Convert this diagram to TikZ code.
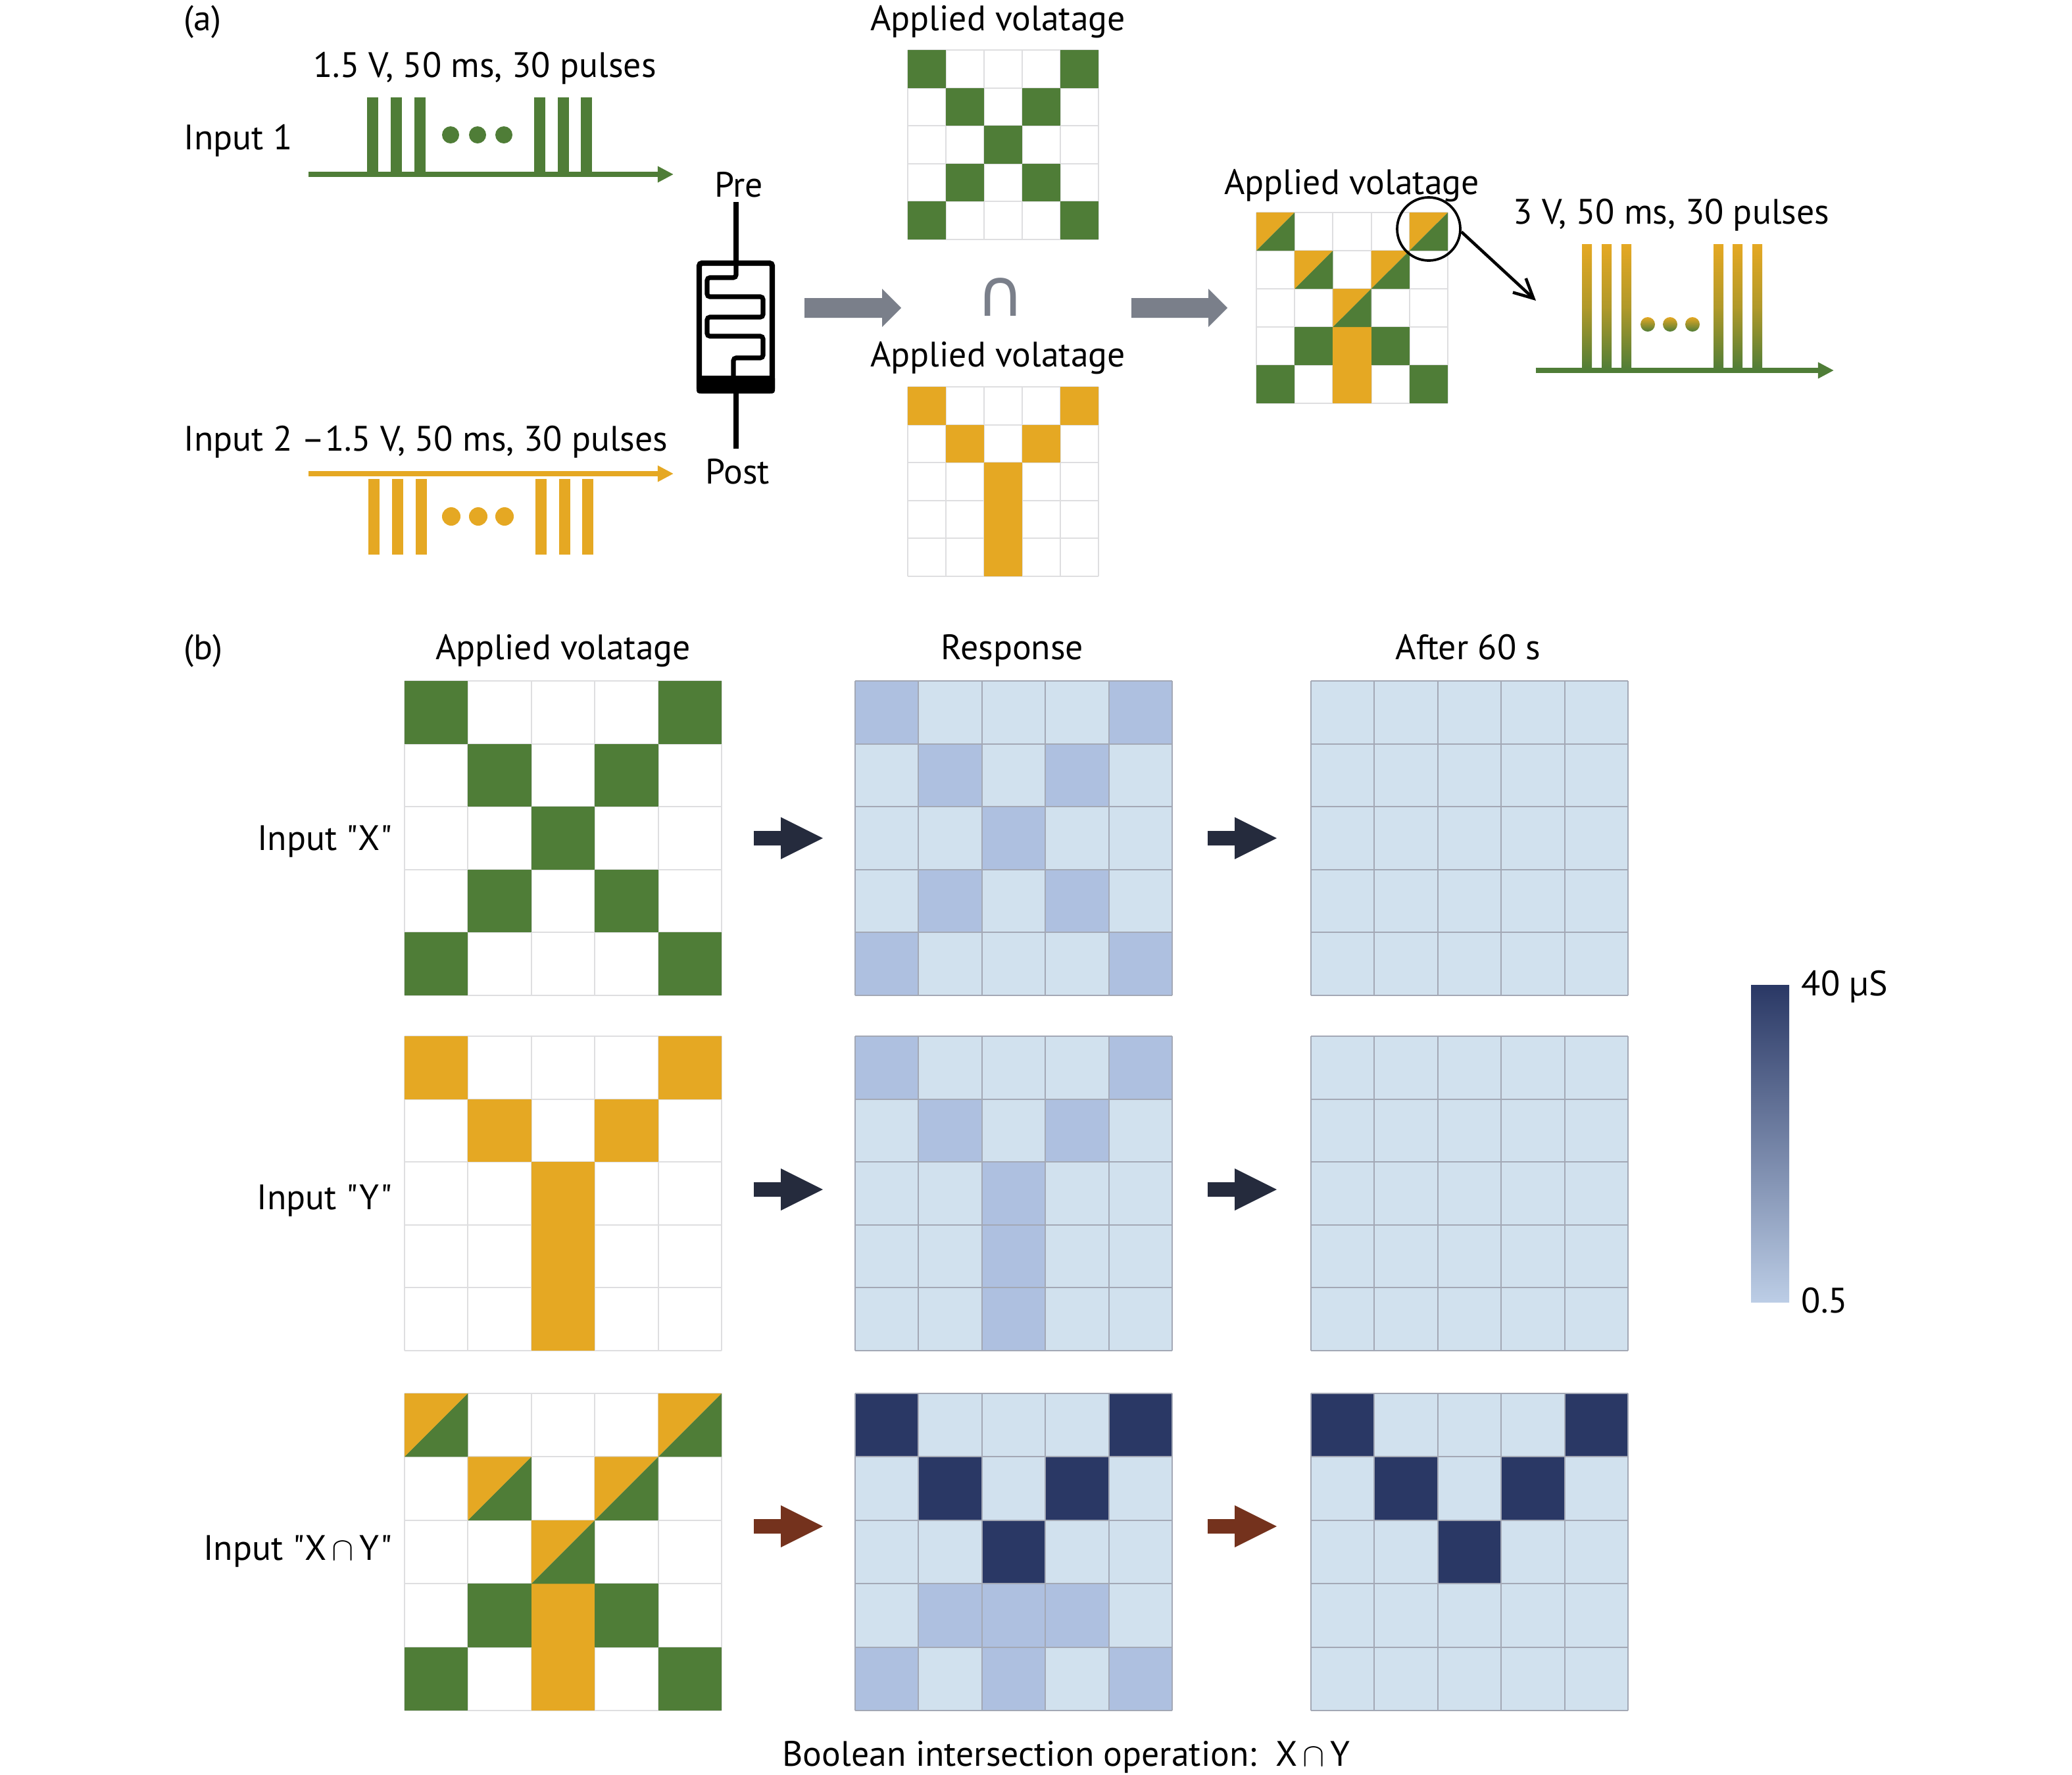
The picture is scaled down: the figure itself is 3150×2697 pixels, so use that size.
\documentclass[tikz,border=0pt]{standalone}
\usepackage{fontspec}
\setmainfont{PT Sans}[Ligatures=TeXOff]
\newfontfamily\capfont{DejaVu Sans}
\usepackage{tikz}
\usetikzlibrary{arrows.meta, shapes, positioning}
\usepackage{xcolor}
\definecolor{leafgreen}{RGB}{79,125,55}
\definecolor{amber}{RGB}{229,168,35}
\definecolor{slategrey}{RGB}{122,127,138}
\definecolor{inkblue}{RGB}{37,43,61}
\definecolor{rust}{RGB}{116,50,29}
\definecolor{restblue}{RGB}{209,225,238}
\definecolor{weakblue}{RGB}{174,192,224}
\definecolor{strongblue}{RGB}{42,56,101}
\definecolor{softline}{RGB}{222,222,224}
\definecolor{hardline}{RGB}{163,168,181}
\tikzset{lbl/.style={inner sep=0pt, anchor=base, yshift=-0.7pt, font=\fontsize{12.9pt}{16pt}\selectfont},
lblleft/.style={lbl, anchor=base west},
lblright/.style={lbl, anchor=base east},
cellgrid/.style n args={4}{shift={(#1,#2)}, x={#3*0.24pt}, y={-#4*0.24pt}},
axisline/.style={line width=1.7pt, -{Triangle[length=5.8pt,width=5.6pt]}}}
\newcommand{\paintcells}[2]{\foreach \cx/\cy in #2 {\fill[#1] (\cx,\cy) rectangle ++(1,1);}}
\newcommand{\halfcells}[1]{\foreach \cx/\cy in #1 {
\fill[amber] (\cx,\cy) -- ++(1,0) -- ++(-1,1) -- cycle;
\fill[leafgreen] (\cx+1,\cy) -- ++(0,1) -- ++(-1,0) -- cycle;}}
\newcommand{\gridlines}[1]{\foreach \i in {0,...,5} {\draw[#1, line width=0.5pt] (\i,0) -- (\i,5); \draw[#1, line width=0.5pt] (0,\i) -- (5,\i);}}
\newcommand{\blockarrow}[7]{\fill[#1] (#2,#5-#6) -- (#3,#5-#6) -- (#3,#5-#7) -- (#4,#5) -- (#3,#5+#7) -- (#3,#5+#6) -- (#2,#5+#6) -- cycle;}
\newcommand{\Xcells}{0/0,4/0,1/1,3/1,2/2,1/3,3/3,0/4,4/4}
\newcommand{\Ycells}{0/0,4/0,1/1,3/1,2/2,2/3,2/4}
\newcommand{\Vcells}{0/0,4/0,1/1,3/1,2/2}
\begin{document}
\begin{tikzpicture}[x=0.24pt, y=-0.24pt]
    \useasboundingbox (0,0) rectangle (3150,2697);

    % Panel a, labels
    \node[lblleft] (tagA) at (279,44) {(a)};
    \node[lbl] (pulseA) at (737,115) {1.5 V, 50 ms, 30 pulses};
    \node[lblleft] (inputA) at (279,225) {Input 1};
    \node[lblleft] (inputB) at (279,683) {Input 2};
    \node[lbl] (pulseB) at (737,683) {–1.5 V, 50 ms, 30 pulses};
    \node[lbl] (pre) at (1123,297) {Pre};
    \node[lbl] (post) at (1121,733) {Post};
    \node[lbl] (voltA) at (1517,44) {Applied volatage};
    \node[lbl] (voltB) at (1517,555) {Applied volatage};
    \node[lbl] (voltC) at (2055,293) {Applied volatage};
    \node[lbl] (pulseC) at (2541,338) {3 V, 50 ms, 30 pulses};

    % Pulse trains
    \draw[axisline, leafgreen] (469,265) -- (1024,265);
    \draw[axisline, amber] (469,720) -- (1024,720);
    \draw[axisline, leafgreen] (2335,563) -- (2788,563);
    \foreach \x in {558,594,630,812,848,883} {
\fill[leafgreen] (\x,148) rectangle ++(17,117);
\fill[amber] (\x+2,728) rectangle ++(17,115);
}
    \foreach \x in {2405,2435,2465,2605,2634,2664} {
\shade[top color=amber, bottom color=leafgreen, middle color=amber!65!leafgreen] (\x,371) rectangle ++(15,192);
}
    \foreach \x in {685,726,766} {
\fill[leafgreen] (\x,205) circle (13);
\fill[amber] (\x+1,785) circle (14);
}
    \foreach \x in {2505,2539,2573} {
\shade[top color=amber, bottom color=leafgreen] (\x,493) circle (11);
}

    % Device
    \draw[line width=1.9pt] (1119,307) -- (1119,396);
    \draw[line width=1.9pt] (1119,598) -- (1119,682);
    \draw[line width=2pt, rounded corners=1pt] (1063,400) rectangle (1174,594);
    \fill[rounded corners=1pt] (1059,571) rectangle (1178,598);
    \draw[line width=1.7pt, rounded corners=1pt] (1119,396) -- (1119,422) -- (1075,422) -- (1075,451) -- (1160,451) -- (1160,482) -- (1075,482) -- (1075,511) -- (1160,511) -- (1160,544) -- (1115,544) -- (1115,574);

    % Big arrows
    \blockarrow{slategrey}{1223}{1341}{1370}{468}{15}{29}
    \blockarrow{slategrey}{1720}{1837}{1866}{468}{15}{29}
    \node[inner sep=0pt, text=slategrey, font=\capfont\fontsize{24pt}{24pt}\selectfont] (capsign) at (1521,452) {∩};

    % Small grids
    \begin{scope}[cellgrid={1380}{76}{58}{57.6}]
        \gridlines{softline}
        \paintcells{leafgreen}{\Xcells}
    \end{scope}
    \begin{scope}[cellgrid={1380}{588}{58}{57.6}]
        \gridlines{softline}
        \paintcells{amber}{\Ycells}
    \end{scope}
    \begin{scope}[cellgrid={1910}{323}{58.2}{58}]
        \gridlines{softline}
        \paintcells{leafgreen}{{1/3,3/3,0/4,4/4}}
        \paintcells{amber}{{2/3,2/4}}
        \halfcells{\Vcells}
    \end{scope}

    % Magnifier
    \node[circle, draw, line width=0.9pt, minimum size=96*0.24pt, inner sep=0pt] (ring) at (2172,348) {};
    \coordinate (ringend) at (2335,457);
    \draw[line width=1.1pt, -{Straight Barb[length=7pt,width=7pt]}] (ring.-5) -- (ringend);

    % Panel b, labels
    \node[lblleft] (tagB) at (279,1000) {(b)};
    \node[lbl] (headA) at (856,1000) {Applied volatage};
    \node[lbl] (headB) at (1539,1000) {Response};
    \node[lbl] (headC) at (2232,1000) {After 60 s};
    \node[lblright] (rowA) at (597,1290) {Input "X"};
    \node[lblright] (rowB) at (597,1836) {Input "Y"};
    \node[lblright] (rowC) at (597,2369) {Input "X$\,\cap\,$Y"};
    \node[lbl] (footer) at (1621,2682) {Boolean intersection operation:\ \ X$\,\cap\,$Y};

    % Applied grids
    \begin{scope}[cellgrid={615}{1035}{96.4}{95.6}]
        \gridlines{softline}
        \paintcells{leafgreen}{\Xcells}
    \end{scope}
    \begin{scope}[cellgrid={615}{1575}{96.4}{95.6}]
        \gridlines{softline}
        \paintcells{amber}{\Ycells}
    \end{scope}
    \begin{scope}[cellgrid={615}{2118}{96.4}{96.4}]
        \gridlines{softline}
        \paintcells{leafgreen}{{1/3,3/3,0/4,4/4}}
        \paintcells{amber}{{2/3,2/4}}
        \halfcells{\Vcells}
    \end{scope}

    % Response grids
    \begin{scope}[cellgrid={1300}{1035}{96.4}{95.6}]
        \fill[restblue] (0,0) rectangle (5,5);
        \paintcells{weakblue}{\Xcells}
        \gridlines{hardline}
    \end{scope}
    \begin{scope}[cellgrid={1300}{1575}{96.4}{95.6}]
        \fill[restblue] (0,0) rectangle (5,5);
        \paintcells{weakblue}{\Ycells}
        \gridlines{hardline}
    \end{scope}
    \begin{scope}[cellgrid={1300}{2118}{96.4}{96.4}]
        \fill[restblue] (0,0) rectangle (5,5);
        \paintcells{weakblue}{{1/3,2/3,3/3,0/4,2/4,4/4}}
        \paintcells{strongblue}{\Vcells}
        \gridlines{hardline}
    \end{scope}

    % After 60 s grids
    \foreach \oy in {1035,1575} {
\begin{scope}[cellgrid={1993}{\oy}{96.4}{95.6}]
    \fill[restblue] (0,0) rectangle (5,5);
    \gridlines{hardline}
\end{scope}
}
    \begin{scope}[cellgrid={1993}{2118}{96.4}{96.4}]
        \fill[restblue] (0,0) rectangle (5,5);
        \paintcells{strongblue}{\Vcells}
        \gridlines{hardline}
    \end{scope}

    % Row arrows
    \foreach \x in {1146,1836} {
\blockarrow{inkblue}{\x}{\x+41}{\x+105}{1274}{11}{32}
\blockarrow{inkblue}{\x}{\x+41}{\x+105}{1808}{11}{32}
\blockarrow{rust}{\x}{\x+41}{\x+105}{2320}{11}{32}
}

    % Colour bar
    \shade[top color=strongblue, middle color=strongblue!45!weakblue, bottom color=restblue!40!weakblue] (2662,1497) rectangle (2720,1979);
    \node[lblleft] (barmax) at (2738,1511) {40 µS};
    \node[lblleft] (barmin) at (2738,1993) {0.5};
\end{tikzpicture}
\end{document}
